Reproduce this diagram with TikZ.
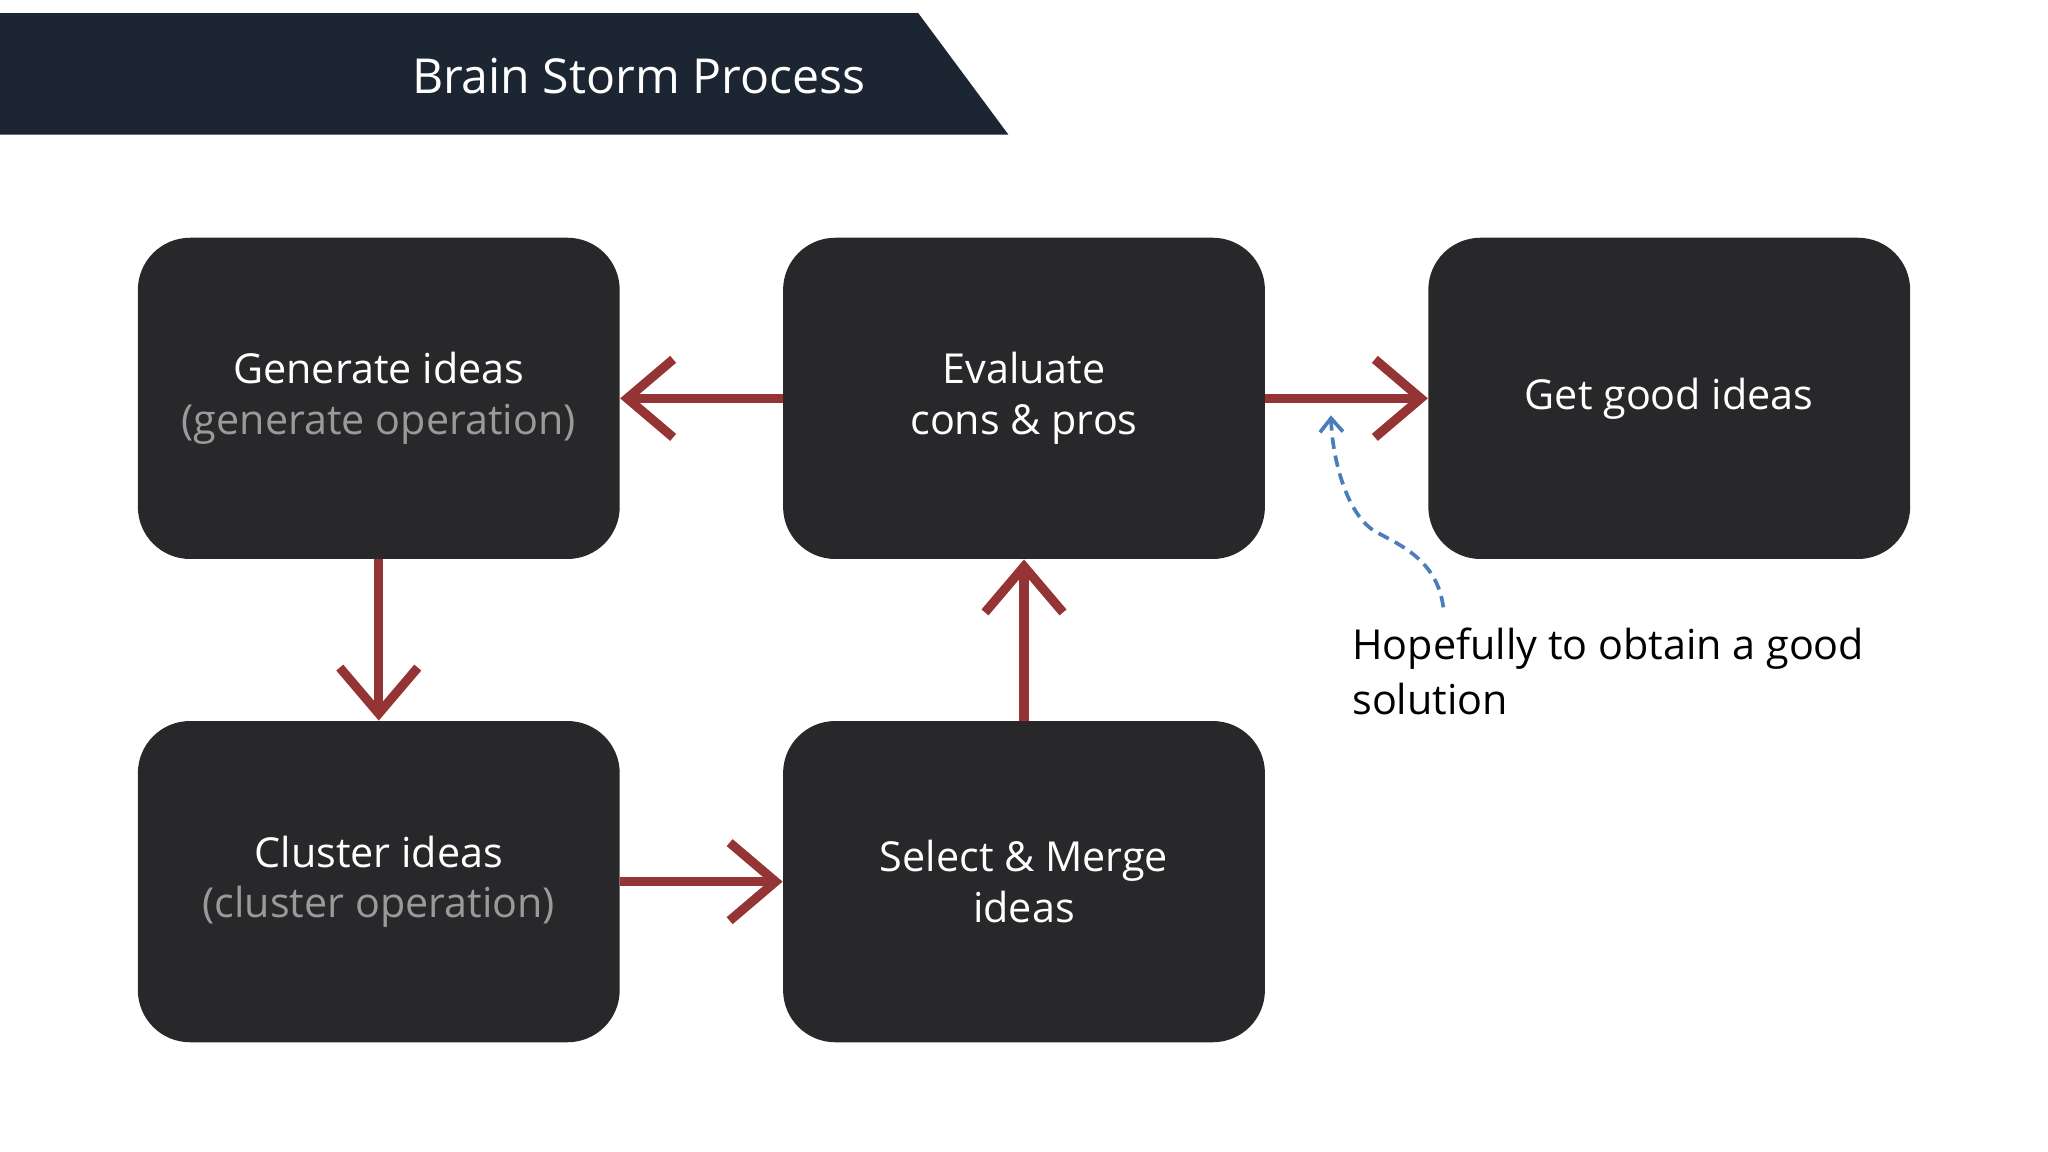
\documentclass[tikz,border=0pt]{standalone}
\usepackage{fontspec}
\setmainfont{Open Sans}
\usetikzlibrary{arrows.meta}
\definecolor{banner}{HTML}{1C2532}
\definecolor{boxc}{HTML}{28282B}
\definecolor{redc}{HTML}{943434}
\definecolor{bluec}{HTML}{4A7EBB}
\definecolor{greyt}{HTML}{9A9A9A}
\begin{document}
\begin{tikzpicture}[x=0.02cm,y=-0.02cm,
  box/.style={fill=boxc,rounded corners=0.8cm,minimum width=7.38cm,minimum height=4.92cm,inner sep=0pt,text=white,align=center,font=\fontsize{18}{24}\selectfont},
  flow/.style={draw=redc,line width=4pt,-{Straight Barb[length=20pt,width=34pt]}},
  sub/.style={text=greyt}]
\useasboundingbox (0,0) rectangle (1568,882);
\fill[white] (0,0) rectangle (1568,882);
\fill[banner] (0,10) -- (703,10) -- (772,103) -- (0,103) -- cycle;
\node[text=white,font=\fontsize{21}{26}\selectfont] (title) at (489,58) {Brain Storm Process};
\node[box] (gen) at (290,305) {Generate ideas\\[-2pt]{\color{greyt}(generate operation)}};
\node[box] (eva) at (784,305) {Evaluate\\[-2pt]cons \& pros};
\node[box] (get) at (1278,305) {Get good ideas};
\node[box] (clu) at (290,675) {Cluster ideas\\[-2pt]{\color{greyt}(cluster operation)}};
\node[box] (sel) at (784,675) {Select \& Merge\\[-2pt]ideas};
\draw[flow] (eva.west) -- (gen.east);
\draw[flow] (eva.east) -- (get.west);
\draw[flow] (gen.south) -- (clu.north);
\draw[flow] (clu.east) -- (sel.west);
\draw[flow] (sel.north) -- (eva.south);
\node[anchor=north west,align=left,font=\fontsize{18}{24}\selectfont,inner sep=0pt] (note) at (1035,480) {Hopefully to obtain a good\\solution};
\coordinate (ns) at (1105,465);
\coordinate (ne) at (1019,318);
\draw[bluec,line width=1.6pt,dash pattern=on 5pt off 3pt,-{Straight Barb[length=6pt,width=10pt]}] (ns) .. controls (1100,425) and (1065,415) .. (1050,405) .. controls (1030,390) and (1020,350) .. (ne);
\end{tikzpicture}
\end{document}
